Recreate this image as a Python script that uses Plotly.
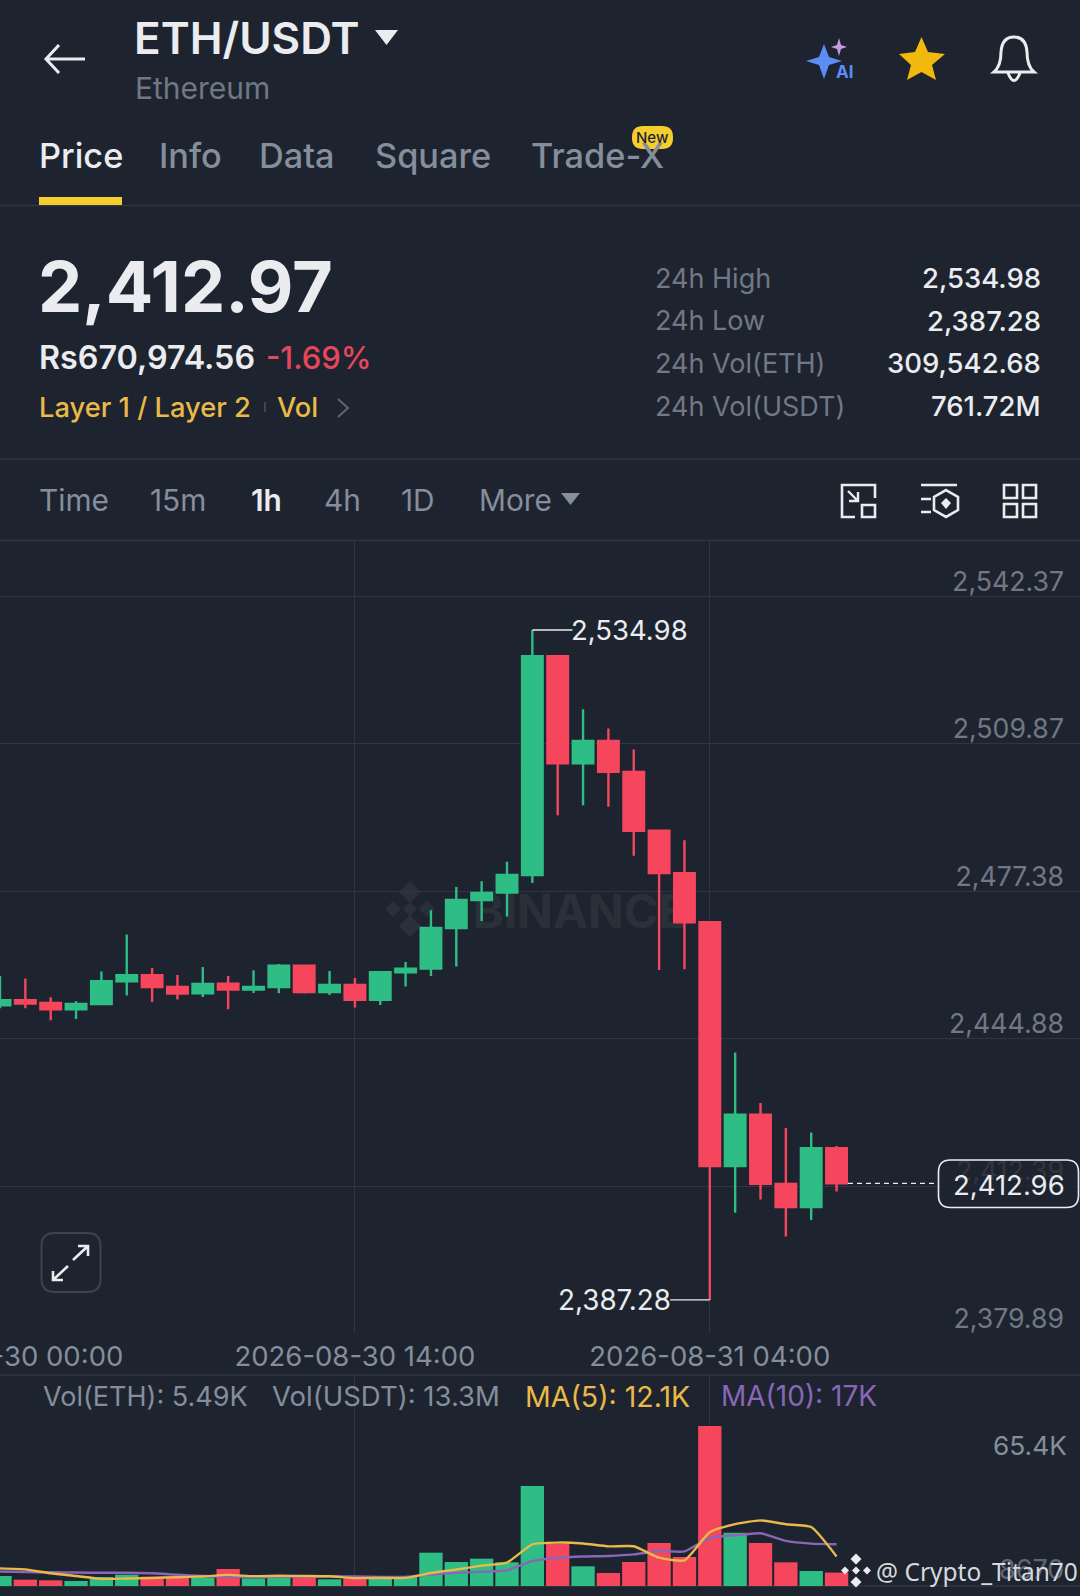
import pandas as pd
import plotly.graph_objects as go

W, H = 1080, 1596
BG = "#1E242F"
GRID = "#2F3641"
GREEN = "#2EBD85"
RED = "#F6465D"
GREY = "#848E9C"
DIM = "#707885"
WHITE = "#EAECEF"
YELLOW = "#E9B949"
PURPLE = "#8A66B8"
FONT = "Inter"

times = pd.date_range("2026-08-30 00:00", periods=34, freq="h")
open_ = [2452.24, 2453.34, 2452.75, 2451.36, 2452.53, 2457.53, 2458.85, 2456.28, 2454.89, 2457.02,
         2455.69, 2456.28, 2460.99, 2455.18, 2456.72, 2453.42, 2459.52, 2460.33, 2469.29, 2475.46,
         2477.08, 2480.97, 2529.20, 2505.58, 2510.50, 2503.71, 2490.72, 2481.37, 2470.54, 2416.80,
         2428.12, 2412.87, 2407.75, 2420.74]
close = [2453.34, 2452.61, 2451.36, 2452.53, 2457.53, 2458.85, 2456.28, 2454.81, 2456.94, 2455.69,
         2456.28, 2460.99, 2455.18, 2456.72, 2453.42, 2459.52, 2460.33, 2469.29, 2475.46, 2477.00,
         2480.97, 2529.20, 2505.58, 2510.50, 2503.71, 2490.72, 2481.37, 2470.54, 2416.80, 2428.12,
         2412.87, 2407.75, 2420.74, 2412.96]
high = [2458.71, 2458.12, 2454.00, 2453.12, 2459.66, 2467.82, 2460.47, 2458.93, 2460.69, 2458.71,
        2459.96, 2461.35, 2461.21, 2459.81, 2458.27, 2459.52, 2461.79, 2473.18, 2478.33, 2479.58,
        2483.91, 2534.98, 2529.20, 2517.49, 2513.26, 2508.63, 2490.72, 2488.65, 2470.54, 2441.80,
        2430.68, 2425.17, 2424.19, 2421.23]
low = [2451.58, 2451.58, 2448.93, 2449.23, 2452.53, 2454.37, 2452.98, 2453.49, 2454.08, 2451.36,
       2454.96, 2454.89, 2454.81, 2454.52, 2451.73, 2452.31, 2456.36, 2458.71, 2460.77, 2470.83,
       2471.79, 2479.20, 2494.16, 2496.33, 2496.03, 2485.21, 2460.01, 2460.21, 2387.28, 2406.47,
       2409.42, 2401.26, 2404.90, 2411.19]
volume_k = [4.09, 2.59, 2.32, 2.04, 3.68, 4.63, 3.82, 3.82, 3.41, 6.95,
            3.13, 3.54, 3.54, 2.73, 3.13, 3.41, 3.68, 13.63, 9.81, 11.18,
            9.68, 40.89, 17.17, 8.04, 5.32, 9.81, 17.58, 11.86, 65.4, 21.81,
            17.58, 9.68, 6.13, 5.49]
ma5_k = [7.2, 6.8, 5.2, 4.1, 2.94, 3.05, 3.30, 3.60, 3.87, 4.53,
         4.03, 4.17, 4.12, 3.98, 3.22, 3.27, 3.30, 5.32, 6.73, 8.34,
         9.6, 17.04, 17.75, 17.39, 16.22, 16.25, 11.58, 10.52, 21.99, 25.29,
         26.85, 25.27, 24.12, 12.1]
ma10_k = [5.9, 5.7, 5.6, 5.5, 5.4, 5.4, 5.2, 4.6, 4.1, 3.74,
          3.64, 3.73, 3.86, 3.93, 3.87, 3.75, 3.73, 4.72, 5.36, 5.78,
          6.43, 10.17, 11.53, 12.06, 12.28, 12.92, 14.31, 14.13, 19.69, 20.76,
          21.55, 18.43, 17.32, 17.07]

price_ticks = [2542.37, 2509.87, 2477.38, 2444.88, 2412.39, 2379.89]
price_labels = ["2,542.37", "2,509.87", "2,477.38", "2,444.88", "2,412.39", "2,379.89"]
time_ticks = ["2026-08-30 00:00", "2026-08-30 14:00", "2026-08-31 04:00"]
stat_names = ["24h High", "24h Low", "24h Vol(ETH)", "24h Vol(USDT)"]
stat_values = ["2,534.98", "2,387.28", "309,542.68", "761.72M"]
tabs = ["Price", "Info", "Data", "Square", "Trade-X"]
intervals = ["Time", "15m", "1h", "4h", "1D", "More"]


def px(x):
    return x / W


def py(y):
    return 1 - y / H


def P(points, close_path=True):
    s = "M" + " L".join(f"{px(a):.5f},{py(b):.5f}" for a, b in points)
    return s + (" Z" if close_path else "")


def RR(x0, y0, x1, y1, r):
    return (f"M{px(x0 + r):.5f},{py(y0):.5f} L{px(x1 - r):.5f},{py(y0):.5f} Q{px(x1):.5f},{py(y0):.5f} {px(x1):.5f},{py(y0 + r):.5f} "
            f"L{px(x1):.5f},{py(y1 - r):.5f} Q{px(x1):.5f},{py(y1):.5f} {px(x1 - r):.5f},{py(y1):.5f} "
            f"L{px(x0 + r):.5f},{py(y1):.5f} Q{px(x0):.5f},{py(y1):.5f} {px(x0):.5f},{py(y1 - r):.5f} "
            f"L{px(x0):.5f},{py(y0 + r):.5f} Q{px(x0):.5f},{py(y0):.5f} {px(x0 + r):.5f},{py(y0):.5f} Z")


fig = go.Figure()
fig.add_trace(go.Candlestick(
    x=times, open=open_, high=high, low=low, close=close, whiskerwidth=0,
    increasing=dict(line=dict(color=GREEN, width=2.4), fillcolor=GREEN),
    decreasing=dict(line=dict(color=RED, width=2.4), fillcolor=RED),
    xaxis="x", yaxis="y", showlegend=False))
bar_colors = [GREEN if c >= o else RED for o, c in zip(open_, close)]
fig.add_trace(go.Bar(x=times, y=volume_k, marker=dict(color=bar_colors, line=dict(width=0)),
                     xaxis="x2", yaxis="y2", showlegend=False))
fig.add_trace(go.Scatter(x=times, y=ma10_k, mode="lines", xaxis="x2", yaxis="y2", showlegend=False,
                         line=dict(color=PURPLE, width=2.4, shape="spline", smoothing=0.5)))
fig.add_trace(go.Scatter(x=times, y=ma5_k, mode="lines", xaxis="x2", yaxis="y2", showlegend=False,
                         line=dict(color=YELLOW, width=2.4, shape="spline", smoothing=0.5)))

annos = []


def T(x, y, s, size, color=WHITE, anchor="left", weight=400, family=FONT):
    annos.append(dict(x=px(x), y=py(y), xref="paper", yref="paper", text=s, showarrow=False,
                      xanchor=anchor, yanchor="middle", align=anchor,
                      font=dict(family=family, size=size, color=color, weight=weight)))


shapes = []


def S(path, fill=None, line=None, lw=2.4, layer="above"):
    shapes.append(dict(type="path", path=path, xref="paper", yref="paper", layer=layer,
                       fillcolor=fill if fill else "rgba(0,0,0,0)",
                       line=dict(color=line if line else "rgba(0,0,0,0)", width=lw if line else 0)))


def HL(y):
    S(P([(0, y), (W, y)], False), line=GRID, lw=1.4, layer="below")


for y in (205.5, 459, 540.5, 1375, 1586):
    HL(y)

# header
T(132, 38, "ETH/USDT", 44, WHITE, weight=600)
T(132.5, 88.5, "Ethereum", 30, DIM)
S(P([(375, 30), (398, 30), (386.5, 45)]), fill=WHITE)
S(P([(85, 59), (46, 59)], False) + " " + P([(59, 45), (46, 59), (59, 73)], False), line=WHITE, lw=3)

# AI star, favourite star, bell
S(P([(824, 44), (829, 57), (842, 61), (829, 65), (824, 79), (819, 65), (806, 61), (819, 57)]), fill="#5B8DF5")
S(P([(839, 38), (841, 45), (847, 47), (841, 49), (839, 56), (837, 49), (831, 47), (837, 45)]), fill="#C79AE0")
T(834, 71.5, "AI", 17, "#5B8DF5", weight=700)
S(P([(921.5, 37), (928, 52), (945, 54), (932, 65), (936, 80), (921.5, 72), (907, 80), (911, 65), (899, 54), (915, 52)]),
  fill="#F0B90B")
bell = (f"M{px(994):.5f},{py(72):.5f} Q{px(1001):.5f},{py(66):.5f} {px(1001):.5f},{py(52):.5f} "
        f"Q{px(1002):.5f},{py(37):.5f} {px(1014):.5f},{py(37):.5f} "
        f"Q{px(1026):.5f},{py(37):.5f} {px(1027):.5f},{py(52):.5f} "
        f"Q{px(1027):.5f},{py(66):.5f} {px(1034):.5f},{py(72):.5f} Z "
        f"M{px(1008):.5f},{py(73):.5f} Q{px(1014):.5f},{py(88):.5f} {px(1020):.5f},{py(73):.5f}")
S(bell, line=WHITE, lw=3)

# tabs
for name, x in zip(tabs, (37, 157, 257, 373, 529)):
    T(x, 155.5, name, 34.3, WHITE if name == "Price" else GREY, weight=500)
S(P([(39, 197), (122, 197), (122, 205), (39, 205)]), fill="#F5CE2E")
S(RR(632, 126, 673, 149, 11), fill="#F5CE2E")
T(652.5, 137.5, "New", 15, "#1E242F", anchor="center", weight=500)

# price block
T(36, 286, "2,412.97", 70.3, WHITE, weight=700)
T(37, 357, "Rs670,974.56", 32.3, WHITE, weight=600)
T(264, 357, "-1.69%", 31, "#E5475B", weight=500)
T(37, 407, "Layer 1 / Layer 2", 27.3, YELLOW, weight=500)
T(275, 407, "Vol", 27.3, YELLOW, weight=500)
S(P([(265, 402), (265, 412)], False), line="#4A505B", lw=1.5)
S(P([(338, 399), (348, 408), (338, 417)], False), line="#5E6673", lw=2)
for name, val, y in zip(stat_names, stat_values, (278, 320.6, 363.4, 406)):
    T(653, y, name, 27, DIM)
    T(1043, y, val, 27.5, WHITE, anchor="right", weight=500)

# intervals
for name, x in zip(intervals, (37, 148, 249, 322, 399, 477)):
    T(x, 500, name, 29.8, WHITE if name == "1h" else GREY, weight=600 if name == "1h" else 400)
S(P([(561, 493), (580, 493), (570.5, 505)]), fill=GREY)
S(P([(875, 498), (875, 485), (842, 485), (842, 517), (855, 517)], False), line=WHITE, lw=2.6)
S(P([(862, 505), (875, 505), (875, 517), (862, 517)]), line=WHITE, lw=2.6)
S(P([(848, 491), (858, 501)], False) + " " + P([(849, 501), (858, 501), (858, 492)], False), line=WHITE, lw=2.4)
S(P([(921, 485), (957, 485)], False), line=WHITE, lw=2.6)
S(P([(921, 499), (931, 499)], False) + " " + P([(921, 512), (931, 512)], False), line=WHITE, lw=2.6)
S(P([(946, 490), (958, 497), (958, 510), (946, 517), (934, 510), (934, 497)]), line=WHITE, lw=2.6)
S(P([(946, 498), (951, 503), (946, 509), (941, 503)]), fill=WHITE)
for a, b in ((1004, 485), (1023, 485), (1004, 504), (1023, 504)):
    S(P([(a, b), (a + 13, b), (a + 13, b + 13), (a, b + 13)]), line=WHITE, lw=2.6)

# watermark under the candles
WM = "#2A3039"
for cx, cy, r in ((410, 892, 11), (410, 926, 11), (393, 909, 8), (427, 909, 8), (410, 909, 7)):
    S(P([(cx, cy - r), (cx + r, cy), (cx, cy + r), (cx - r, cy)]), fill=WM, layer="below")
shapes.append(dict(type="rect", xref="paper", yref="paper", x0=px(470), x1=px(690), y0=py(930), y1=py(888),
                   layer="below", line=dict(width=0), fillcolor="rgba(0,0,0,0)",
                   label=dict(text="BINANCE", textposition="middle center",
                              font=dict(family=FONT, size=47, color=WM, weight=700))))

# expand button
S(RR(41.5, 1233, 100.5, 1292, 13), line="#3C434E", lw=2)
S(P([(73, 1260), (88, 1246)], False) + " " + P([(78, 1246), (88, 1246), (88, 1256)], False) + " "
  + P([(68, 1266), (53, 1280)], False) + " " + P([(53, 1271), (53, 1280), (63, 1280)], False), line=WHITE, lw=2.6)

# extreme price call-outs (data coordinates)
hi_i, lo_i = high.index(max(high)), low.index(min(low))
shapes.append(dict(type="line", xref="x", yref="y", x0=times[hi_i], x1=times[hi_i] + pd.Timedelta(minutes=95),
                   y0=high[hi_i], y1=high[hi_i], line=dict(color=WHITE, width=1.4), layer="above"))
shapes.append(dict(type="line", xref="x", yref="y", x0=times[lo_i], x1=times[lo_i] - pd.Timedelta(minutes=94),
                   y0=low[lo_i], y1=low[lo_i], line=dict(color=WHITE, width=1.4), layer="above"))
annos.append(dict(x=times[hi_i] + pd.Timedelta(minutes=95), y=high[hi_i], xref="x", yref="y", text="2,534.98",
                  showarrow=False, xanchor="left", xshift=-3, font=dict(family=FONT, size=27.5, color=WHITE)))
annos.append(dict(x=times[lo_i] - pd.Timedelta(minutes=94), y=low[lo_i], xref="x", yref="y", text="2,387.28",
                  showarrow=False, xanchor="right", xshift=3, font=dict(family=FONT, size=27.8, color=WHITE)))

# last price marker
shapes.append(dict(type="line", xref="x", yref="y", x0=times[-1] + pd.Timedelta(minutes=27),
                   x1=times[-1] + pd.Timedelta(minutes=240), y0=close[-1], y1=close[-1],
                   line=dict(color=WHITE, width=1.4, dash="5px,4px"), layer="above"))
S(RR(938.5, 1160, 1078.5, 1207.5, 12), fill="rgba(30,36,47,0.78)", line=WHITE, lw=1.6)
T(1008.5, 1185, "2,412.96", 27.5, WHITE, anchor="center")

# volume header and labels
T(41, 1396, "Vol(ETH): 5.49K", 27, GREY)
T(270, 1396, "Vol(USDT): 13.3M", 27.5, GREY)
T(523, 1396, "MA(5): 12.1K", 28.5, YELLOW)
T(719, 1396, "MA(10): 17K", 28, PURPLE)
T(1069, 1445, "65.4K", 26.3, GREY, anchor="right")
T(1066, 1569, "8670", 27, "#5E6673", anchor="right")
T(874, 1571, "@ Crypto_Titan70", 24.5, "#D5D8DD", family="Noto Sans")
for cx, cy, r in ((856, 1559, 5.5), (856, 1582, 5.5), (845, 1570.5, 4), (867, 1570.5, 4), (856, 1570.5, 4)):
    S(P([(cx, cy - r), (cx + r, cy), (cx, cy + r), (cx - r, cy)]), fill=WHITE)

x_end = pd.Timestamp("2026-08-30 00:00") + pd.Timedelta(hours=W / 25.35)
x_range = [pd.Timestamp("2026-08-30 00:00"), x_end]
P_TOP, P_BOT, V_TOP, V_BOT = 540.5, 1333.4, 1375, 1586

fig.update_layout(
    width=W, height=H, margin=dict(l=0, r=0, t=0, b=0, autoexpand=False), autosize=False,
    paper_bgcolor=BG, plot_bgcolor=BG, showlegend=False, boxmode="overlay", boxgap=0.19, boxgroupgap=0, bargap=0.08,
    hovermode=False, annotations=annos, shapes=shapes,
    xaxis=dict(domain=[0, 1], range=x_range, type="date", rangeslider=dict(visible=False), anchor="y",
               tickvals=time_ticks, ticktext=time_ticks, showgrid=True, gridcolor=GRID, gridwidth=1.2,
               zeroline=False, showline=False, ticks="", tickfont=dict(family=FONT, size=27.5, color=GREY),
               ticklabelstandoff=4, ticklabeloverflow="allow"),
    xaxis2=dict(domain=[0, 1], range=x_range, type="date", anchor="y2", tickvals=time_ticks, showgrid=True,
                gridcolor=GRID, gridwidth=1.2, zeroline=False, showticklabels=False, ticks=""),
    yaxis=dict(domain=[py(P_BOT), py(P_TOP)], range=[2379.89, 2554.72], side="right", anchor="x",
               tickvals=price_ticks, ticktext=price_labels, showgrid=True, gridcolor=GRID, gridwidth=1.2,
               zeroline=False, showline=False, ticks="", ticklabelposition="inside",
               ticklabelshift=-15, ticklabelstandoff=13, ticklabeloverflow="allow",
               tickfont=dict(family=FONT, size=26.7, color=DIM)),
    yaxis2=dict(domain=[py(V_BOT), py(V_TOP)], range=[0, 86.3], side="right", anchor="x2", showgrid=False,
                zeroline=False, showticklabels=False, ticks=""),
)
fig.write_html("out.html", config=dict(displayModeBar=False),
               post_script="document.body.style.margin='0';document.body.style.background='#1E242F';")
